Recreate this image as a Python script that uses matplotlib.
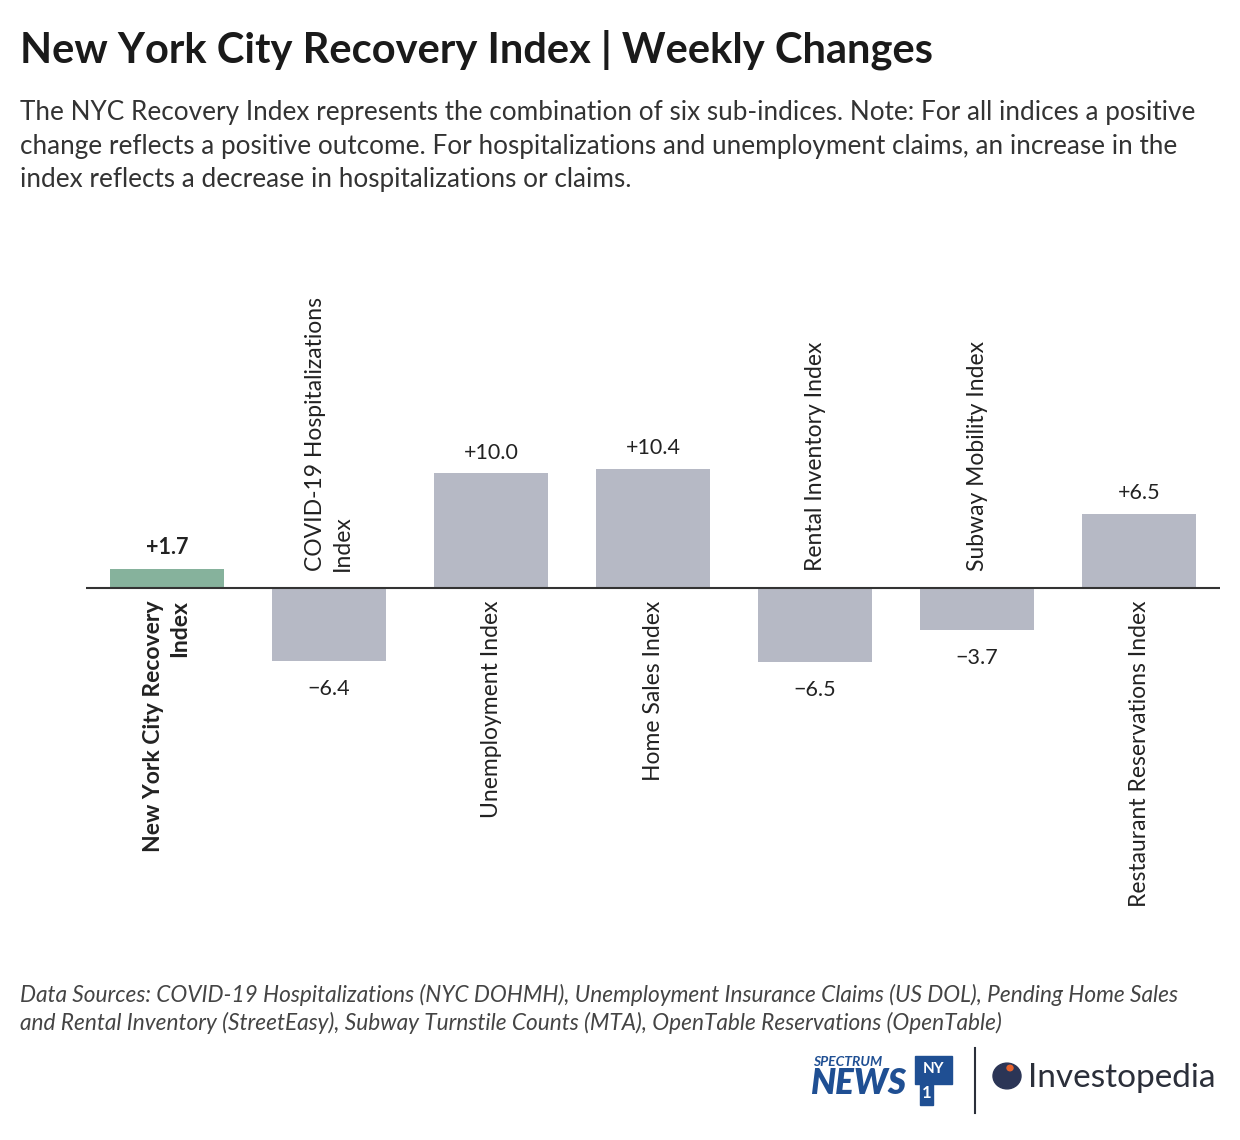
import matplotlib.pyplot as plt
from matplotlib.patches import Circle, Rectangle

# weekly change of each index
categories = [
    "New York City Recovery\nIndex",
    "COVID-19 Hospitalizations\nIndex",
    "Unemployment Index",
    "Home Sales Index",
    "Rental Inventory Index",
    "Subway Mobility Index",
    "Restaurant Reservations Index",
]
changes = [1.7, -6.4, 10.0, 10.4, -6.5, -3.7, 6.5]
bar_colors = ["#86b29c", "#b6b9c5", "#b6b9c5", "#b6b9c5", "#b6b9c5", "#b6b9c5", "#b6b9c5"]

plt.rcParams['font.family'] = ['Lato', 'DejaVu Sans']

W, H = 1240, 1140
fig = plt.figure(figsize=(W / 100, H / 100), dpi=100)

# axes: pixel box 86..1220 horizontally, 300..880 vertically
ax = fig.add_axes([86 / W, 1 - 880 / H, (1220 - 86) / W, 580 / H])
ax.bar(range(len(changes)), changes, width=0.7, color=bar_colors)
ax.set_xlim(-0.5, len(changes) - 0.5)
ax.set_ylim(-25.5, 25.15)
ax.axhline(0, color="#333333", lw=1.5)
ax.axis("off")

for i, (cat, v) in enumerate(zip(categories, changes)):
    lab = f"{v:+.1f}".replace("-", "\u2212")
    bold = "bold" if i == 0 else "normal"
    if v >= 0:
        ax.annotate(lab, (i, v), xytext=(0, 15), textcoords="offset points",
                    ha="center", va="center", fontsize=15.5, fontweight=bold, color="#222222")
        ax.annotate(cat, (i, 0), xytext=(0, -9), textcoords="offset points",
                    ha="center", va="top", rotation=90, multialignment="right",
                    fontsize=16.5, fontweight=bold, color="#222222", linespacing=1.3)
    else:
        ax.annotate(lab, (i, v), xytext=(0, -20), textcoords="offset points",
                    ha="center", va="center", fontsize=15.5, color="#222222")
        ax.annotate(cat, (i, 0), xytext=(0, 12), textcoords="offset points",
                    ha="center", va="bottom", rotation=90, multialignment="left",
                    fontsize=16.5, color="#222222", linespacing=1.3)

# title and notes
fig.text(20 / W, 1 - 50 / H, "New York City Recovery Index | Weekly Changes",
         fontsize=30, fontweight="bold", color="#1a1a1a", va="center")
fig.text(20 / W, 1 - 100 / H,
         "The NYC Recovery Index represents the combination of six sub-indices. Note: For all indices a positive\n"
         "change reflects a positive outcome. For hospitalizations and unemployment claims, an increase in the\n"
         "index reflects a decrease in hospitalizations or claims.",
         fontsize=18.8, color="#333333", va="top", linespacing=1.43)
fig.text(20 / W, 1 - 984 / H,
         "Data Sources: COVID-19 Hospitalizations (NYC DOHMH), Unemployment Insurance Claims (US DOL), Pending Home Sales\n"
         "and Rental Inventory (StreetEasy), Subway Turnstile Counts (MTA), OpenTable Reservations (OpenTable)",
         fontsize=16.3, style="italic", color="#444444", va="top", linespacing=1.33)

# logos (rough)
blue = "#1f4f93"
fig.text(813 / W, 1 - 1062 / H, "SPECTRUM", fontsize=10, fontweight="bold", style="italic",
         color=blue, va="center")
fig.text(810 / W, 1 - 1083 / H, "NEWS", fontsize=25, fontweight="heavy", style="italic",
         color=blue, va="center")
fig.patches.append(Rectangle((915 / W, 1 - 1084 / H), 37 / W, 28 / H, color=blue,
                             transform=fig.transFigure, figure=fig))
fig.patches.append(Rectangle((920 / W, 1 - 1105 / H), 13 / W, 22 / H, color=blue,
                             transform=fig.transFigure, figure=fig))
fig.text(934 / W, 1 - 1069 / H, "NY", fontsize=11, fontweight="bold", color="white",
         ha="center", va="center")
fig.text(926.5 / W, 1 - 1093 / H, "1", fontsize=12, fontweight="bold", color="white",
         ha="center", va="center")
fig.add_artist(plt.Line2D([975 / W, 975 / W], [1 - 1048 / H, 1 - 1113 / H], color="#2b2f3a", lw=1.5))
fig.patches.append(Circle((1007 / W, 1 - 1076 / H), 14 / W, color="#2b3556",
                          transform=fig.transFigure, figure=fig))
fig.patches.append(Circle((1010 / W, 1 - 1068 / H), 3 / W, color="#e8622c",
                          transform=fig.transFigure, figure=fig))
fig.text(1028 / W, 1 - 1078 / H, "Investopedia", fontsize=24, color="#2b2f3a", va="center")

fig.savefig("out.png", dpi=100, facecolor="white")
